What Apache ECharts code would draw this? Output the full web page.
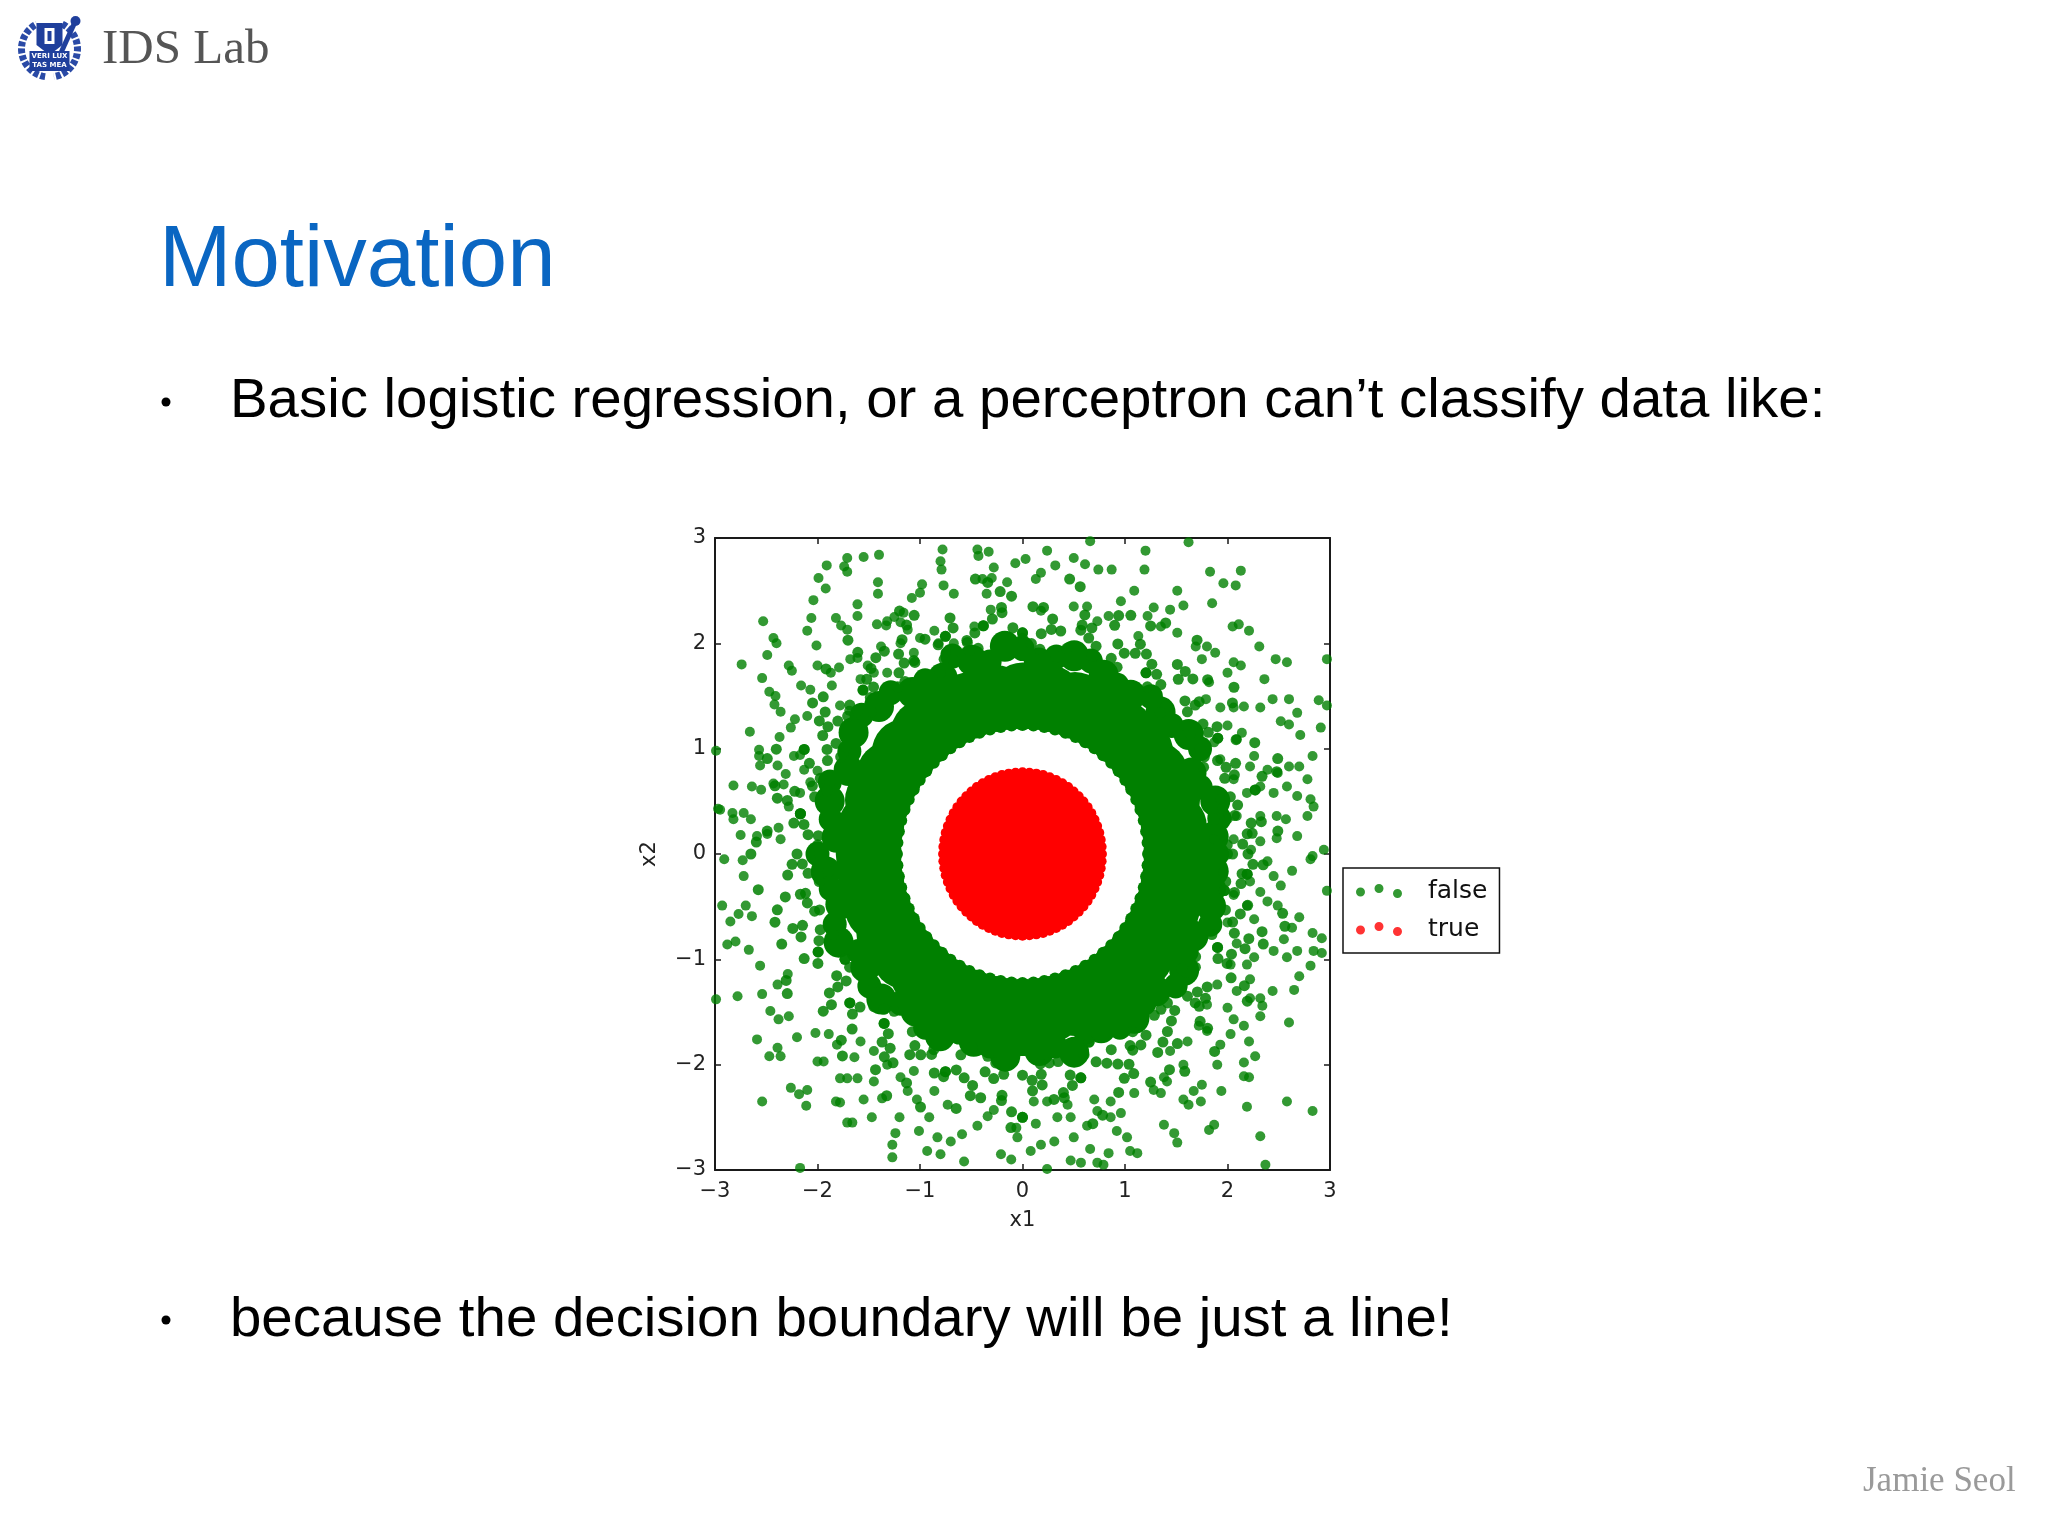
<!DOCTYPE html>
<html>
<head>
<meta charset="utf-8">
<script src="https://cdn.jsdelivr.net/npm/echarts/dist/echarts.min.js"></script>
<style>
html,body{margin:0;padding:0;background:#ffffff;}
#chart{width:2048px;height:1536px;}
</style>
</head>
<body>
<div id="chart"></div>
<script>
// ---------- data ----------
const seriesNames = ['false', 'true'];
const tickValues = [-3, -2, -1, 0, 1, 2, 3];
const tickLabels = ['\u22123', '\u22122', '\u22121', '0', '1', '2', '3'];
const axisNames = ['x1', 'x2'];

// true class: solid core and its rim
const trueCore = [[0, 0]];
const trueRim = [
[0.775,0],[0.772,0.068],[0.763,0.135],[0.749,0.201],[0.728,0.265],[0.702,0.328],[0.671,0.388],[0.635,0.445],[0.594,0.498],[0.548,0.548],[0.498,0.594],[0.445,0.635],[0.388,0.671],[0.328,0.702],[0.265,0.728],[0.201,0.749],[0.135,0.763],[0.068,0.772],
[0,0.775],[-0.068,0.772],[-0.135,0.763],[-0.201,0.749],[-0.265,0.728],[-0.328,0.702],[-0.388,0.671],[-0.445,0.635],[-0.498,0.594],[-0.548,0.548],[-0.594,0.498],[-0.635,0.445],[-0.671,0.388],[-0.702,0.328],[-0.728,0.265],[-0.749,0.201],[-0.763,0.135],[-0.772,0.068],
[-0.775,0],[-0.772,-0.068],[-0.763,-0.135],[-0.749,-0.201],[-0.728,-0.265],[-0.702,-0.328],[-0.671,-0.388],[-0.635,-0.445],[-0.594,-0.498],[-0.548,-0.548],[-0.498,-0.594],[-0.445,-0.635],[-0.388,-0.671],[-0.328,-0.702],[-0.265,-0.728],[-0.201,-0.749],[-0.135,-0.763],[-0.068,-0.772],
[0,-0.775],[0.068,-0.772],[0.135,-0.763],[0.201,-0.749],[0.265,-0.728],[0.328,-0.702],[0.388,-0.671],[0.445,-0.635],[0.498,-0.594],[0.548,-0.548],[0.594,-0.498],[0.635,-0.445],[0.671,-0.388],[0.702,-0.328],[0.728,-0.265],[0.749,-0.201],[0.763,-0.135],[0.772,-0.068]
];

// false class: dense band (inner rim, body, outer bodies)
const falseRim = [
[1.225,0],[1.220,0.107],[1.206,0.213],[1.183,0.317],[1.151,0.419],[1.110,0.518],[1.061,0.613],[1.003,0.703],[0.938,0.787],[0.866,0.866],[0.787,0.938],[0.703,1.003],[0.613,1.061],[0.518,1.110],[0.419,1.151],[0.317,1.183],[0.213,1.206],[0.107,1.220],
[0,1.225],[-0.107,1.220],[-0.213,1.206],[-0.317,1.183],[-0.419,1.151],[-0.518,1.110],[-0.613,1.061],[-0.703,1.003],[-0.787,0.938],[-0.866,0.866],[-0.938,0.787],[-1.003,0.703],[-1.061,0.613],[-1.110,0.518],[-1.151,0.419],[-1.183,0.317],[-1.206,0.213],[-1.220,0.107],
[-1.225,0],[-1.220,-0.107],[-1.206,-0.213],[-1.183,-0.317],[-1.151,-0.419],[-1.110,-0.518],[-1.061,-0.613],[-1.003,-0.703],[-0.938,-0.787],[-0.866,-0.866],[-0.787,-0.938],[-0.703,-1.003],[-0.613,-1.061],[-0.518,-1.110],[-0.419,-1.151],[-0.317,-1.183],[-0.213,-1.206],[-0.107,-1.220],
[0,-1.225],[0.107,-1.220],[0.213,-1.206],[0.317,-1.183],[0.419,-1.151],[0.518,-1.110],[0.613,-1.061],[0.703,-1.003],[0.787,-0.938],[0.866,-0.866],[0.938,-0.787],[1.003,-0.703],[1.061,-0.613],[1.110,-0.518],[1.151,-0.419],[1.183,-0.317],[1.206,-0.213],[1.220,-0.107]
];
const falseBody = [
[1.5,0],[1.477,0.260],[1.410,0.513],[1.299,0.75],[1.149,0.964],[0.964,1.149],[0.75,1.299],[0.513,1.410],[0.260,1.477],
[0,1.5],[-0.260,1.477],[-0.513,1.410],[-0.75,1.299],[-0.964,1.149],[-1.149,0.964],[-1.299,0.75],[-1.410,0.513],[-1.477,0.260],
[-1.5,0],[-1.477,-0.260],[-1.410,-0.513],[-1.299,-0.75],[-1.149,-0.964],[-0.964,-1.149],[-0.75,-1.299],[-0.513,-1.410],[-0.260,-1.477],
[0,-1.5],[0.260,-1.477],[0.513,-1.410],[0.75,-1.299],[0.964,-1.149],[1.149,-0.964],[1.299,-0.75],[1.410,-0.513],[1.477,-0.260]
];
const falseOuterBody = [
[1.865,0.164],[1.881,0.504],[1.649,0.768],[1.622,1.135],[1.347,1.347],[1.056,1.508],[0.792,1.697],[0.504,1.881],[0.158,1.813],
[-0.172,1.972],[-0.493,1.839],[-0.778,1.668],[-1.074,1.534],[-1.400,1.400],[-1.648,1.153],[-1.697,0.792],[-1.881,0.504],[-1.813,0.158],
[-1.919,-0.168],[-1.777,-0.476],[-1.794,-0.837],[-1.534,-1.074],[-1.377,-1.377],[-1.043,-1.491],[-0.805,-1.726],[-0.476,-1.777],[-0.168,-1.919],
[0.164,-1.865],[0.504,-1.881],[0.768,-1.649],[1.092,-1.560],[1.301,-1.301],[1.577,-1.104],[1.668,-0.778],[1.839,-0.493],[1.865,-0.164]
];
const falseOuterEdge = [
[1.9,0],[1.920,0.339],[1.738,0.633],[1.732,1.0],[1.455,1.221],[1.253,1.494],[0.925,1.602],[0.667,1.832],[0.330,1.871],
[0,1.95],[-0.321,1.822],[-0.684,1.879],[-0.95,1.645],[-1.286,1.532],[-1.570,1.318],[-1.689,0.975],[-1.879,0.684],[-1.871,0.330],
[-2.0,0],[-1.871,-0.330],[-1.832,-0.667],[-1.602,-0.925],[-1.494,-1.253],[-1.189,-1.417],[-0.95,-1.645],[-0.616,-1.691],[-0.321,-1.822],
[0,-1.8],[0.321,-1.822],[0.616,-1.691],[0.95,-1.645],[1.189,-1.417],[1.494,-1.253],[1.602,-0.925],[1.832,-0.667],[1.871,-0.330]
];
// false class: ragged, speckled edge of the band
const falseFringe = [
[2.05,0],[1.920,0.339],[2.067,0.752],[1.732,1.0],[1.724,1.446],[1.350,1.609],[1.15,1.992],[0.677,1.861],[0.373,2.117],
[0,2.05],[-0.382,2.167],[-0.667,1.832],[-1.06,1.836],[-1.478,1.762],[-1.570,1.318],[-1.949,1.125],[-1.879,0.684],[-2.167,0.382],
[-1.98,0],[-2.117,-0.373],[-2.161,-0.787],[-1.732,-1.0],[-1.685,-1.414],[-1.253,-1.494],[-1.05,-1.819],[-0.770,-2.114],[-0.339,-1.920],
[0,-2.1],[0.399,-2.265],[0.650,-1.785],[1.075,-1.862],[1.286,-1.532],[1.724,-1.446],[1.689,-0.975],[2.067,-0.752],[1.970,-0.347],
[2.241,0.196],[2.028,0.543],[1.767,0.824],[1.761,1.233],[1.400,1.400],[1.262,1.802],[0.866,1.858],[0.582,2.173],[0.170,1.943],
[-0.200,2.291],[-0.538,2.009],[-0.951,2.039],[-1.147,1.638],[-1.556,1.556],[-1.925,1.348],[-1.903,0.887],[-2.222,0.595],[-2.092,0.183],
[-2.291,-0.200],[-1.980,-0.531],[-1.994,-0.930],[-1.884,-1.319],[-1.450,-1.450],[-1.291,-1.843],[-0.866,-1.858],[-0.569,-2.125],[-0.200,-2.291],
[0.174,-1.992],[0.569,-2.125],[0.866,-1.858],[1.319,-1.884],[1.485,-1.485],[1.597,-1.118],[2.039,-0.951],[1.980,-0.531],[2.142,-0.187],
[2.0,0],[2.192,0.192],[1.871,0.330],[2.270,0.608],[1.973,0.718],[2.266,1.057],[1.905,1.1],[1.638,1.147],[1.685,1.414],[1.343,1.343],[1.511,1.800],[1.205,1.720],[1.25,2.165],[0.930,1.994],[0.684,1.879],[0.569,2.125],[0.330,1.871],[0.205,2.341],
[0,2.1],[-0.218,2.491],[-0.382,2.167],[-0.518,1.932],[-0.752,2.067],[-0.803,1.722],[-1.175,2.035],[-1.205,1.720],[-1.607,1.915],[-1.556,1.556],[-1.532,1.286],[-1.802,1.262],[-1.645,0.95],[-2.130,0.993],[-1.973,0.718],[-2.415,0.647],[-2.167,0.382],[-1.992,0.174],
[-2.2,0],[-1.893,-0.166],[-2.314,-0.408],[-2.028,-0.543],[-2.349,-0.855],[-1.994,-0.930],[-1.732,-1.0],[-1.802,-1.262],[-1.455,-1.221],[-1.662,-1.662],[-1.350,-1.609],[-1.434,-2.048],[-1.1,-1.905],[-0.845,-1.813],[-0.752,-2.067],[-0.492,-1.835],[-0.408,-2.314],[-0.183,-2.092],
[0,-2.5],[0.192,-2.192],[0.347,-1.970],[0.569,-2.125],[0.650,-1.785],[0.993,-2.130],[1.05,-1.819],[1.434,-2.048],[1.414,-1.685],[1.414,-1.414],[1.685,-1.414],[1.556,-1.090],[2.035,-1.175],[1.903,-0.887],[2.349,-0.855],[2.125,-0.569],[1.970,-0.347],[2.192,-0.192],
[1.998,0.087],[2.231,0.294],[1.953,0.433],[2.337,0.737],[2.079,0.861],[1.774,0.923],[1.898,1.209],[1.587,1.218],[1.806,1.655],[1.520,1.659],[1.218,1.587],[1.209,1.898],[0.923,1.774],[0.938,2.264],[0.677,2.146],[0.433,1.953],[0.294,2.231],[0.087,1.998],
[-0.107,2.448],[-0.294,2.231],[-0.433,1.953],[-0.677,2.146],[-0.765,1.848],[-1.131,2.173],[-1.209,1.898],[-1.218,1.587],[-1.520,1.659],[-1.475,1.351],[-1.944,1.492],[-1.898,1.209],[-1.774,0.923],[-2.079,0.861],[-1.907,0.601],[-2.392,0.530],[-2.231,0.294],[-1.998,0.087],
[-2.248,-0.098],[-1.983,-0.261],[-2.392,-0.530],[-2.146,-0.677],[-1.848,-0.765],[-1.996,-1.039],[-1.687,-1.075],[-1.944,-1.492],[-1.659,-1.520],[-1.351,-1.475],[-1.370,-1.785],[-1.075,-1.687],[-1.131,-2.173],[-0.861,-2.079],[-0.601,-1.907],[-0.487,-2.197],[-0.261,-1.983],[-0.107,-2.448],
[0.098,-2.248],[0.261,-1.983],[0.487,-2.197],[0.601,-1.907],[0.938,-2.264],[1.039,-1.996],[1.075,-1.687],[1.370,-1.785],[1.351,-1.475],[1.806,-1.655],[1.785,-1.370],[1.687,-1.075],[1.996,-1.039],[1.848,-0.765],[2.337,-0.737],[2.197,-0.487],[1.983,-0.261],[2.248,-0.098],
[2.2,0],[2.491,0.218],[2.068,0.365],[2.270,0.608],[2.490,0.906],[1.903,0.887],[1.905,1.1],[2.048,1.434],[1.609,1.350],[1.662,1.662],[1.703,2.030],[1.205,1.720],[1.1,1.905],[1.057,2.266],[0.718,1.973],[0.608,2.270],[0.460,2.610],[0.183,2.092],
[0,2.1],[-0.205,2.341],[-0.460,2.610],[-0.543,2.028],[-0.752,2.067],[-1.057,2.266],[-1.05,1.819],[-1.348,1.925],[-1.703,2.030],[-1.485,1.485],[-1.685,1.414],[-2.048,1.434],[-1.819,1.05],[-2.130,0.993],[-2.490,0.906],[-2.028,0.543],[-2.167,0.382],[-2.491,0.218],
[-2.65,0],[-2.092,-0.183],[-2.167,-0.382],[-2.415,-0.647],[-1.973,-0.718],[-2.130,-0.993],[-2.295,-1.325],[-1.720,-1.205],[-1.685,-1.414],[-1.768,-1.768],[-1.350,-1.609],[-1.348,-1.925],[-1.325,-2.295],[-0.887,-1.903],[-0.752,-2.067],[-0.647,-2.415],[-0.365,-2.068],[-0.205,-2.341],
[0,-2.5],[0.183,-2.092],[0.408,-2.314],[0.686,-2.560],[0.718,-1.973],[0.930,-1.994],[1.25,-2.165],[1.205,-1.720],[1.511,-1.800],[1.874,-1.874],[1.609,-1.350],[1.802,-1.262],[2.165,-1.25],[1.903,-0.887],[2.208,-0.804],[2.560,-0.686],[2.068,-0.365],[2.192,-0.192],
[2.148,0.094],[2.330,0.307],[2.099,0.465],[2.480,0.782],[1.986,0.823],[2.084,1.085],[1.813,1.155],[2.063,1.583],[1.585,1.453],[1.588,1.733],[1.309,1.706],[1.397,2.193],[0.993,1.907],[0.899,2.171],[0.646,2.050],[0.563,2.538],[0.281,2.132],[0.102,2.348],
[-0.094,2.148],[-0.339,2.578],[-0.465,2.099],[-0.707,2.241],[-0.823,1.986],[-1.200,2.306],[-1.155,1.813],[-1.431,1.864],[-1.453,1.585],[-1.917,1.757],[-1.706,1.309],[-1.982,1.263],[-1.907,0.993],[-2.402,0.995],[-2.050,0.646],[-2.294,0.509],[-2.132,0.281],[-2.597,0.113],
[-2.148,-0.094],[-2.578,-0.339],[-2.099,-0.465],[-2.241,-0.707],[-1.986,-0.823],[-2.306,-1.200],[-1.813,-1.155],[-1.864,-1.431],[-1.585,-1.453],[-1.757,-1.917],[-1.309,-1.706],[-1.263,-1.982],[-0.993,-1.907],[-0.995,-2.402],[-0.646,-2.050],[-0.509,-2.294],[-0.281,-2.132],[-0.113,-2.597],
[0.094,-2.148],[0.307,-2.330],[0.465,-2.099],[0.782,-2.480],[0.823,-1.986],[1.085,-2.084],[1.155,-1.813],[1.583,-2.063],[1.453,-1.585],[1.733,-1.588],[1.706,-1.309],[2.193,-1.397],[1.907,-0.993],[2.171,-0.899],[2.050,-0.646],[2.538,-0.563],[2.132,-0.281],[2.348,-0.102]
];
// false class: scattered outer points
const falseScatter = [
[-2.53,2.21],[-2.74,1.80],[-2.54,1.67],[-2.47,1.54],[-2.41,1.50],[-2.42,1.42],[-2.36,1.35],[-2.66,1.16],[-2.37,1.11],[-2.26,1.20],[-2.22,1.28],[-2.28,1.79],[-2.25,1.74],[-2.49,1.89],[-2.43,2.05],[-2.40,2.00],[-2.10,2.12],[-2.06,2.24],[-2.01,1.98],[-2.04,2.41],[-1.99,2.62],[-1.92,2.52],[-1.91,2.74],[-1.74,2.73],[-1.71,2.81],[-1.71,2.68],[-1.55,2.82],[-1.40,2.84],[-1.41,2.58],[-1.41,2.47],[-1.61,2.37],[-1.61,2.26],[-1.82,2.24],[-1.77,2.17],[-1.71,2.13],[-2.00,1.79],[-2.10,1.31],[-2.16,1.60],[-2.07,1.56],[-2.57,0.99],[-2.57,0.93],[-2.56,0.84],[-2.82,0.65],[-2.64,0.64],[-2.55,0.61],[-2.95,0.42],[-2.83,0.39],[-2.82,0.33],[-2.72,0.39],[-2.65,0.33],[-2.75,0.18],[-2.59,0.17],[-2.49,0.19],[-2.39,0.84],[-2.31,0.76],[-2.33,0.66],[-2.43,0.67],[-2.23,0.93],[-2.17,0.94],[-2.13,0.80],[-2.28,0.45],[-2.17,0.58],[-2.07,0.68],[-2.00,0.79],[-2.38,0.25],[-2.36,0.14],[-2.99,0.98],[-2.97,0.43],
[-0.78,2.89],[-0.80,2.78],[-0.79,2.70],[-0.77,2.55],[-0.67,2.47],[-0.44,2.89],[-0.43,2.83],[-0.33,2.87],[-0.28,2.72],[-0.30,2.62],[-0.07,2.76],[-0.15,2.58],[-0.39,2.61],[-0.35,2.47],[-0.98,2.56],[-1.00,2.48],[-1.08,2.43],[-1.16,2.29],[-1.19,2.20],[-1.12,2.13],[-1.32,2.21],[-1.25,2.25],[-1.42,2.18],[-1.33,2.17],[-1.61,1.86],[-1.68,1.85],[-1.79,1.77],[-1.87,1.72],[-1.86,1.60],[-1.78,1.41],[-1.69,1.36],[-1.58,1.66],[-1.51,1.79],[-1.45,1.72],[-1.32,1.72],[-1.38,1.97],[-1.19,2.00],[-1.06,1.91],[-1.00,2.05],[-0.86,2.12],[-0.82,2.00],[-0.75,1.91],[-0.67,2.00],[-0.47,2.16],[-0.31,2.32],
[0.24,2.88],[0.03,2.80],[0.32,2.74],[0.50,2.81],[0.61,2.75],[0.74,2.70],[0.87,2.70],[1.20,2.88],[1.19,2.70],[1.62,2.96],[0.66,2.97],[1.83,2.68],[1.96,2.57],[2.08,2.55],[2.13,2.69],[1.85,2.38],[1.57,2.36],[1.51,2.50],[1.44,2.32],[1.28,2.34],[1.09,2.50],[0.96,2.40],[2.05,2.16],[2.11,2.18],[2.21,2.12],[2.31,1.97],[2.47,1.85],[2.58,1.82],[2.36,1.66],[2.00,1.72],[2.06,1.82],[2.13,1.79],[1.80,1.97],[1.88,1.91],[1.75,1.85],[1.82,1.63],[1.79,1.47],[1.93,1.39],[2.06,1.39],[2.16,1.40],[2.32,1.39],[2.44,1.47],[2.60,1.47],[2.68,1.34],[2.52,1.26],[2.60,1.23],[2.71,1.13],[2.89,1.46],[2.97,1.41],[2.91,1.20],[2.97,1.85],[2.83,0.93],[2.78,0.71],[2.70,0.83],[2.60,0.83],[2.49,0.77],[2.39,0.80],[2.26,0.93],[2.22,0.83],[2.09,1.09],[2.14,1.15],[2.00,1.22],[1.87,1.06],[1.93,0.90],[2.06,0.71],[2.19,0.58],[2.32,0.64],[2.45,0.58],[2.58,0.64],[2.68,0.55],[2.81,0.52],[2.78,0.36],[2.84,0.45],[2.48,0.36],[2.57,0.33],[2.68,0.17],[2.48,0.15],[2.32,0.36],[2.32,0.12],[2.23,0.04],[2.94,0.04],[2.83,-0.02],[2.00,0.33],[2.09,0.36],[1.93,0.52],[2.06,0.14],[1.87,0.14],[1.69,1.97],[1.51,2.10],[1.35,2.16],[1.22,2.26],[1.13,2.07],[0.84,2.26],[0.63,2.35],[0.50,2.35],[0.73,2.21],[0.18,2.31],[0.13,2.61],[0.18,2.67],
[-2.93,-0.49],[-2.91,-0.05],[-2.73,-0.06],[-2.72,-0.21],[-2.85,-0.64],[-2.77,-0.57],[-2.70,-0.49],[-2.64,-0.59],[-2.88,-0.86],[-2.80,-0.83],[-2.67,-0.91],[-2.56,-1.06],[-2.78,-1.35],[-2.54,-1.33],[-2.59,-1.76],[-2.47,-1.92],[-2.36,-1.92],[-2.39,-1.84],[-2.46,-1.49],[-2.38,-1.57],[-2.28,-1.54],[-2.20,-1.74],[-2.39,-1.24],[-2.29,-1.14],[-2.54,-2.35],[-2.26,-2.22],[-2.18,-2.28],[-2.10,-2.24],[-2.11,-2.39],[-2.00,-1.97],[-1.94,-1.97],[-2.02,-1.70],[-1.89,-1.71],[-1.82,-2.35],[-1.78,-2.36],[-1.71,-2.55],[-1.66,-2.55],[-1.55,-2.33],[-1.47,-2.50],[-1.45,-2.16],[-1.37,-2.32],[-1.27,-2.76],[-1.27,-2.88],[-1.24,-2.65],[-1.20,-2.50],[-1.78,-2.13],[-1.71,-2.13],[-1.61,-2.13],[-1.64,-1.93],[-1.58,-1.78],[-1.81,-1.81],[-2.17,-2.98],[-1.01,-2.63],[-0.91,-2.50],[-0.93,-2.82],[-0.83,-2.69],[-0.80,-2.85],[-0.70,-2.73],[-0.57,-2.92],[-0.59,-2.66],[-0.44,-2.58],[-0.34,-2.49],[-0.21,-2.85],[-0.11,-2.90],[-0.05,-2.69],[-0.28,-2.43],[-0.06,-2.60],[-1.03,-2.33],[-0.86,-2.25],[-0.73,-2.38],[-1.12,-2.25],[-1.19,-2.12],[-1.06,-2.06],[-1.32,-2.00],[-1.45,-1.87],[-2.99,-1.38],
[2.63,-0.16],[2.81,-0.05],[2.97,-0.35],[2.45,-0.21],[2.52,-0.30],[2.39,-0.45],[2.49,-0.49],[2.70,-0.60],[2.63,-0.70],[2.83,-0.75],[2.92,-0.80],[2.84,-0.92],[2.92,-0.94],[2.68,-0.92],[2.55,-0.81],[2.45,-0.92],[2.58,-0.98],[2.81,-1.06],[2.70,-1.16],[2.44,-1.30],[2.65,-1.29],[2.60,-1.60],[2.22,-1.19],[2.32,-1.37],[2.34,-1.44],[2.32,-1.54],[2.22,-1.37],[2.06,-1.57],[2.16,-1.63],[2.21,-1.78],[2.27,-1.92],[2.16,-1.98],[2.16,-2.11],[2.21,-2.12],[2.19,-2.40],[2.58,-2.35],[2.83,-2.44],[2.32,-2.68],[2.37,-2.95],[1.94,-2.25],[1.87,-2.57],[1.82,-2.62],[1.90,-2.00],[2.03,-1.71],[1.93,-1.81],[1.80,-1.68],[1.72,-1.63],[1.75,-2.19],[1.67,-2.25],[1.62,-2.38],[1.57,-2.33],[1.74,-2.35],[1.48,-2.65],[1.51,-2.74],[1.38,-2.57],[1.41,-2.16],[1.35,-2.27],[1.28,-2.24],[1.09,-2.27],[1.12,-2.84],[1.05,-2.82],[1.02,-2.69],[0.92,-2.63],[0.96,-2.46],[0.84,-2.84],[0.73,-2.93],[0.79,-2.95],[0.57,-2.93],[0.47,-2.91],[0.66,-2.80],[0.50,-2.69],[0.31,-2.73],[0.18,-2.76],[0.08,-2.82],[0.13,-2.56],[0.34,-2.50],[0.47,-2.50],[0.63,-2.58],[0.73,-2.44],[0.86,-2.50],[0.86,-2.35],[0.70,-2.33],[0.44,-2.38],[0.24,-2.35],[0.11,-2.35],[0.24,-2.99],[1.38,-2.12],[1.57,-2.00],[1.44,-1.87],[1.61,-1.78],[1.80,-1.43],[2.00,-1.46],[1.90,-1.24],[2.09,-1.30],[2.03,-1.05],[2.19,-1.05],[2.26,-0.98],[2.09,-0.85],[2.26,-0.62],[2.19,-0.49],[2.00,-0.65],[2.06,-0.39],[2.32,-0.36],[2.22,-0.26],[2.39,-0.07],[1.96,-0.17]
];

// ---------- chart ----------
const chart = echarts.init(document.getElementById('chart'), null, {renderer: 'canvas'});
const GREEN = '#008000';
const RED = '#ff0000';
const AXIS_COLOR = '#1a1a1a';
const tickFmt = v => { const i = tickValues.indexOf(v); return i >= 0 ? tickLabels[i] : ''; };
const dotsIcon = 'path://M0 8a4.5 4.5 0 1 0 9 0a4.5 4.5 0 1 0 -9 0Z M18.5 4.5a4.5 4.5 0 1 0 9 0a4.5 4.5 0 1 0 -9 0Z M37 9.5a4.5 4.5 0 1 0 9 0a4.5 4.5 0 1 0 -9 0Z';

function axisBase(extra) {
  return Object.assign({
    type: 'value', min: -3, max: 3, interval: 1,
    axisLine: {show: true, onZero: false, lineStyle: {color: AXIS_COLOR, width: 2}},
    axisTick: {show: true, inside: true, length: 6, lineStyle: {color: AXIS_COLOR, width: 1.5}},
    splitLine: {show: false}
  }, extra);
}

const labelStyle = {fontFamily: 'DejaVu Sans', fontSize: 21, color: '#222'};

const scatterCommon = {type: 'scatter', silent: true, clip: true, emphasis: {disabled: true}, xAxisIndex: 0, yAxisIndex: 0};

const option = {
  animation: false,
  backgroundColor: '#ffffff',
  grid: {left: 715, top: 538, width: 615, height: 632, containLabel: false},
  xAxis: [
    axisBase({position: 'bottom', name: axisNames[0], nameLocation: 'middle', nameGap: 40,
      nameTextStyle: labelStyle,
      axisLabel: Object.assign({show: true, margin: 11, formatter: tickFmt}, labelStyle)}),
    axisBase({position: 'top', axisLabel: {show: false}})
  ],
  yAxis: [
    axisBase({position: 'left', name: axisNames[1], nameLocation: 'middle', nameGap: 55, nameRotate: 90,
      nameTextStyle: labelStyle,
      axisLabel: Object.assign({show: true, margin: 9, formatter: tickFmt}, labelStyle)}),
    axisBase({position: 'right', axisLabel: {show: false}})
  ],
  legend: {
    show: true, orient: 'vertical', left: 1343, top: 868,
    padding: [8, 12, 9, 13], itemWidth: 46, itemHeight: 14, itemGap: 8,
    borderColor: '#111', borderWidth: 1.5, backgroundColor: '#ffffff',
    selectedMode: false,
    textStyle: {fontFamily: 'DejaVu Sans', fontSize: 25, color: '#111', lineHeight: 30, padding: [0, 0, 0, 21]},
    data: [
      {name: seriesNames[0], icon: dotsIcon, itemStyle: {color: 'rgba(0,128,0,0.8)', opacity: 1}},
      {name: seriesNames[1], icon: dotsIcon, itemStyle: {color: 'rgba(255,0,0,0.8)', opacity: 1}}
    ]
  },
  series: [
    Object.assign({}, scatterCommon, {name: seriesNames[0], data: falseBody, symbolSize: [66, 67], itemStyle: {color: GREEN, opacity: 1}}),
    Object.assign({}, scatterCommon, {name: seriesNames[0], data: falseOuterBody, symbolSize: [30, 31], itemStyle: {color: GREEN, opacity: 1}}),
    Object.assign({}, scatterCommon, {name: seriesNames[0], data: falseOuterEdge, symbolSize: [24, 25], itemStyle: {color: GREEN, opacity: 1}}),
    Object.assign({}, scatterCommon, {name: seriesNames[0], data: falseRim, symbolSize: 12, itemStyle: {color: GREEN, opacity: 1}}),
    Object.assign({}, scatterCommon, {name: seriesNames[0], data: falseFringe, symbolSize: 11, itemStyle: {color: GREEN, opacity: 0.85}}),
    Object.assign({}, scatterCommon, {name: seriesNames[0], data: falseScatter, symbolSize: 10, itemStyle: {color: GREEN, opacity: 0.8}}),
    Object.assign({}, scatterCommon, {name: seriesNames[1], data: trueCore, symbolSize: [156, 160], itemStyle: {color: RED, opacity: 1}}),
    Object.assign({}, scatterCommon, {name: seriesNames[1], data: trueRim, symbolSize: 10, itemStyle: {color: RED, opacity: 1}})
  ],
  graphic: [
    // logo
    {type: 'group', left: 18, top: 16, children: [
      {type: 'arc', shape: {cx: 33, cy: 34, r: 28, startAngle: Math.PI * 0.55, endAngle: Math.PI * 1.35}, style: {stroke: '#2a4aa6', lineWidth: 7, fill: null, lineDash: [5, 2]}},
      {type: 'arc', shape: {cx: 33, cy: 34, r: 28, startAngle: -Math.PI * 0.35, endAngle: Math.PI * 0.45}, style: {stroke: '#2a4aa6', lineWidth: 7, fill: null, lineDash: [5, 2]}},
      {type: 'polygon', shape: {points: [[20, 8], [46, 8], [46, 30], [33, 40], [20, 30]]}, style: {fill: '#1f3f9c'}},
      {type: 'rect', shape: {x: 28, y: 13, width: 10, height: 16}, style: {fill: '#ffffff'}},
      {type: 'rect', shape: {x: 31, y: 16, width: 4, height: 10}, style: {fill: '#1f3f9c'}},
      {type: 'line', shape: {x1: 38, y1: 52, x2: 58, y2: 8}, style: {stroke: '#1f3f9c', lineWidth: 5}},
      {type: 'circle', shape: {cx: 59, cy: 6, r: 5}, style: {fill: '#1f3f9c'}},
      {type: 'rect', shape: {x: 13, y: 36, width: 40, height: 20}, style: {fill: '#1f3f9c'}},
      {type: 'text', style: {x: 33, y: 41, text: 'VERI LUX', fill: '#ffffff', font: 'bold 7px DejaVu Sans', align: 'center', verticalAlign: 'middle'}},
      {type: 'text', style: {x: 33, y: 50, text: 'TAS MEA', fill: '#ffffff', font: 'bold 7px DejaVu Sans', align: 'center', verticalAlign: 'middle'}}
    ]},
    {type: 'text', style: {x: 102, y: 50, text: 'IDS Lab', fill: '#555555', font: '49px "Liberation Serif", "DejaVu Serif", serif', verticalAlign: 'middle'}},
    {type: 'text', style: {x: 159, y: 262, text: 'Motivation', fill: '#0a66c2', font: '87px "Liberation Sans", Arial, sans-serif', verticalAlign: 'middle'}},
    {type: 'circle', shape: {cx: 166, cy: 402, r: 4.5}, style: {fill: '#000000'}},
    {type: 'text', style: {x: 230, y: 401, text: 'Basic logistic regression, or a perceptron can\u2019t classify data like:', fill: '#000000', font: '56.4px "Liberation Sans", Arial, sans-serif', verticalAlign: 'middle'}},
    {type: 'circle', shape: {cx: 166, cy: 1320, r: 4.5}, style: {fill: '#000000'}},
    {type: 'text', style: {x: 230, y: 1320, text: 'because the decision boundary will be just a line!', fill: '#000000', font: '56.4px "Liberation Sans", Arial, sans-serif', verticalAlign: 'middle'}},
    {type: 'text', style: {x: 1863, y: 1482, text: 'Jamie Seol', fill: '#9a9a9a', font: '35px "Liberation Serif", "DejaVu Serif", serif', verticalAlign: 'middle'}}
  ]
};
chart.setOption(option);
</script>
</body>
</html>
